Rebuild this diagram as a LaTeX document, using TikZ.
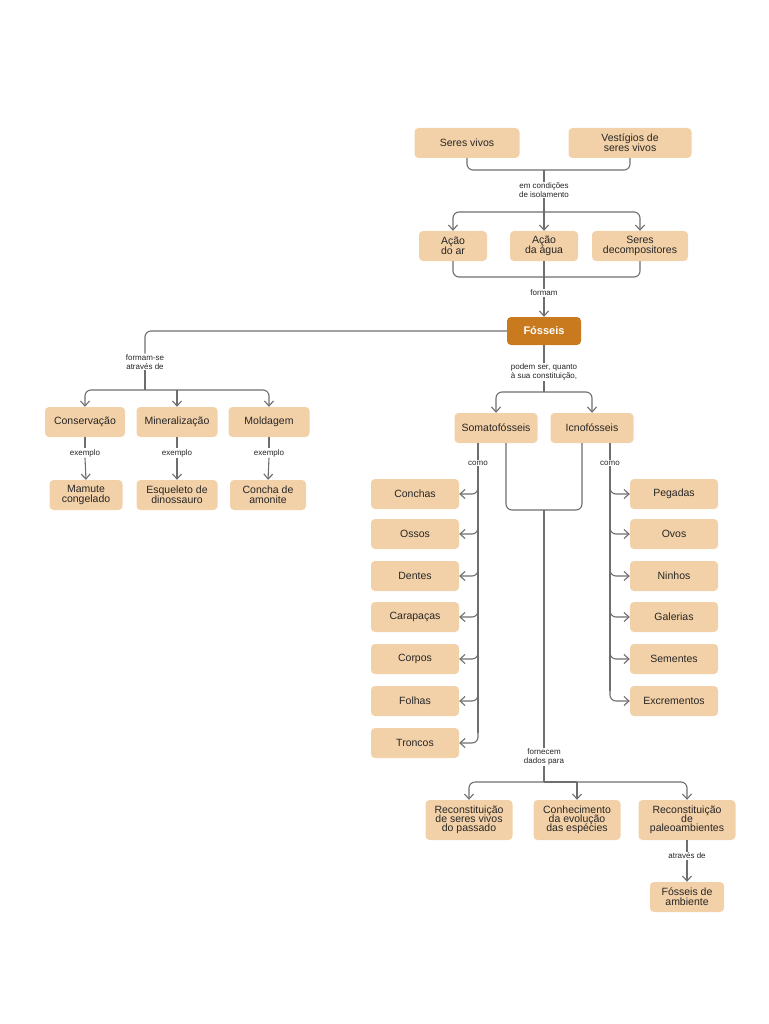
\documentclass[tikz,border=0pt]{standalone}
\usepackage{fontspec}
\setmainfont{Liberation Sans}
\usetikzlibrary{arrows.meta}
\definecolor{boxc}{HTML}{F3D1A8}
\definecolor{dark}{HTML}{C97A1E}
\definecolor{ln}{HTML}{6E6E6E}
\begin{document}
\begin{tikzpicture}[x=1pt,y=-1pt,
 bx/.style={fill=boxc,rounded corners=4pt,minimum height=30pt,align=center,inner sep=2pt,font=\fontsize{10.5}{11}\selectfont,text=black!85},
 lbl/.style={fill=white,align=center,inner sep=1pt,font=\fontsize{8}{8.5}\selectfont,text=black!85},
 ln/.style={draw=ln,line width=1.1pt,rounded corners=6pt},
 arr/.style={ln,-{Straight Barb[length=5pt,width=9pt]}}]
\useasboundingbox (0,0) rectangle (768,1024);
% top
\node[bx,minimum width=105pt] (sv) at (467,143) {Seres vivos};
\node[bx,minimum width=123pt] (vs) at (630,143) {Vestígios de\\[-1pt]seres vivos};
\node[bx,minimum width=68pt] (ar) at (453,246) {Ação\\[-1pt]do ar};
\node[bx,minimum width=68pt] (ag) at (544,246) {Ação\\[-1pt]da água};
\node[bx,minimum width=96pt] (sd) at (640,246) {Seres\\[-1pt]decompositores};
\node[fill=dark,rounded corners=4pt,minimum width=74pt,minimum height=28pt,text=white,font=\bfseries\fontsize{11}{12}\selectfont] (fo) at (544,331) {Fósseis};
\coordinate (j1) at (544,170);
\draw[ln] (sv.south) |- (j1) -| (vs.south);
\node[lbl] (l1) at (544,190) {em condições\\de isolamento};
\coordinate (j2) at (544,212);
\draw[ln] (j1) -- (l1.north); \draw[ln] (l1.south) -- (j2);
\draw[arr] (j2) -| (ar.north);
\draw[arr] (j2) -| (sd.north);
\draw[arr] (j2) -- (ag.north);
\coordinate (j3) at (544,277);
\draw[ln] (ar.south) |- (j3) -| (sd.south);
\draw[ln] (ag.south) -- (j3);
\node[lbl] (l2) at (544,293) {formam};
\draw[ln] (j3) -- (l2.north); \draw[arr] (l2.south) -- (fo.north);
% left branch
\node[bx,minimum width=80pt] (co) at (85,422) {Conservação};
\node[bx,minimum width=81pt] (mi) at (177,422) {Mineralização};
\node[bx,minimum width=81pt] (mo) at (269,422) {Moldagem};
\node[bx,minimum width=73pt] (ma) at (86,495) {Mamute\\[-1pt]congelado};
\node[bx,minimum width=81pt] (es) at (177,495) {Esqueleto de\\[-1pt]dinossauro};
\node[bx,minimum width=76pt] (cm) at (268,495) {Concha de\\[-1pt]amonite};
\node[lbl] (l3) at (145,362) {formam-se\\através de};
\coordinate (j4) at (145,390);
\draw[ln] (fo.west) -| (l3.north); \draw[ln] (l3.south) -- (j4);
\draw[arr] (j4) -| (co.north);
\draw[arr] (j4) -| (mo.north);
\draw[arr] (j4 -| mi.north) -- (mi.north);
\foreach \a/\b/\n in {co/ma/e1,mi/es/e2,mo/cm/e3}{
 \node[lbl] (\n) at (\a.south |- 0,453) {exemplo};
 \draw[ln] (\a.south) -- (\n.north); \draw[arr] (\n.south) -- (\b.north);}
% types
\node[bx,minimum width=83pt] (so) at (496,428) {Somatofósseis};
\node[bx,minimum width=83pt] (ic) at (592,428) {Icnofósseis};
\node[lbl] (l4) at (544,372) {podem ser, quanto\\à sua constituição,};
\coordinate (j5) at (544,392);
\draw[ln] (fo.south) -- (l4.north); \draw[ln] (l4.south) -- (j5);
\draw[arr] (j5) -| (so.north);
\draw[arr] (j5) -| (ic.north);
% left list
\coordinate (tl) at (478,443);
\node[lbl] (c1) at (478,463) {como};
\draw[ln] (tl) -- (c1.north);
\foreach \t/\y [count=\i] in {Conchas/494,Ossos/534,Dentes/576,Carapaças/617,Corpos/659,Folhas/701,Troncos/743}{
 \node[bx,minimum width=88pt] (L\i) at (415,\y) {\t};}
\draw[ln] (c1.south) -- (478,733);
\foreach \i in {1,...,7}{ \draw[arr] (L\i.east -| tl) ++(0,-10) |- (L\i.east); }
% right list
\coordinate (tr) at (610,443);
\node[lbl] (c2) at (610,463) {como};
\draw[ln] (tr) -- (c2.north);
\foreach \t/\y [count=\i] in {Pegadas/494,Ovos/534,Ninhos/576,Galerias/617,Sementes/659,Excrementos/701}{
 \node[bx,minimum width=88pt] (R\i) at (674,\y) {\t};}
\draw[ln] (c2.south) -- (610,691);
\foreach \i in {1,...,6}{ \draw[arr] (R\i.west -| tr) ++(0,-10) |- (R\i.west); }
% join
\coordinate (j6) at (544,510);
\draw[ln] (so.south -| 506,0) |- (j6) -| (ic.south -| 582,0);
\node[bx,minimum width=87pt,minimum height=40pt] (r1) at (469,820) {Reconstituição\\[-2pt]de seres vivos\\[-2pt]do passado};
\node[bx,minimum width=87pt,minimum height=40pt] (r2) at (577,820) {Conhecimento\\[-2pt]da evolução\\[-2pt]das espécies};
\node[bx,minimum width=97pt,minimum height=40pt] (r3) at (687,820) {Reconstituição\\[-2pt]de\\[-2pt]paleoambientes};
\node[bx,minimum width=74pt] (fa) at (687,897) {Fósseis de\\[-1pt]ambiente};
\node[lbl] (l5) at (544,757) {fornecem\\dados para};
\coordinate (j7) at (544,782);
\draw[ln] (j6) -- (l5.north); \draw[ln] (l5.south) -- (j7);
\draw[arr] (j7) -| (r1.north);
\draw[arr] (j7) -| (r3.north);
\draw[arr] (j7 -| r2.north) -- (r2.north);
\draw[ln] (j7) -- (j7 -| r2.north);
\node[lbl] (l6) at (687,856) {através de};
\draw[ln] (r3.south) -- (l6.north); \draw[arr] (l6.south) -- (fa.north);
\end{tikzpicture}
\end{document}
